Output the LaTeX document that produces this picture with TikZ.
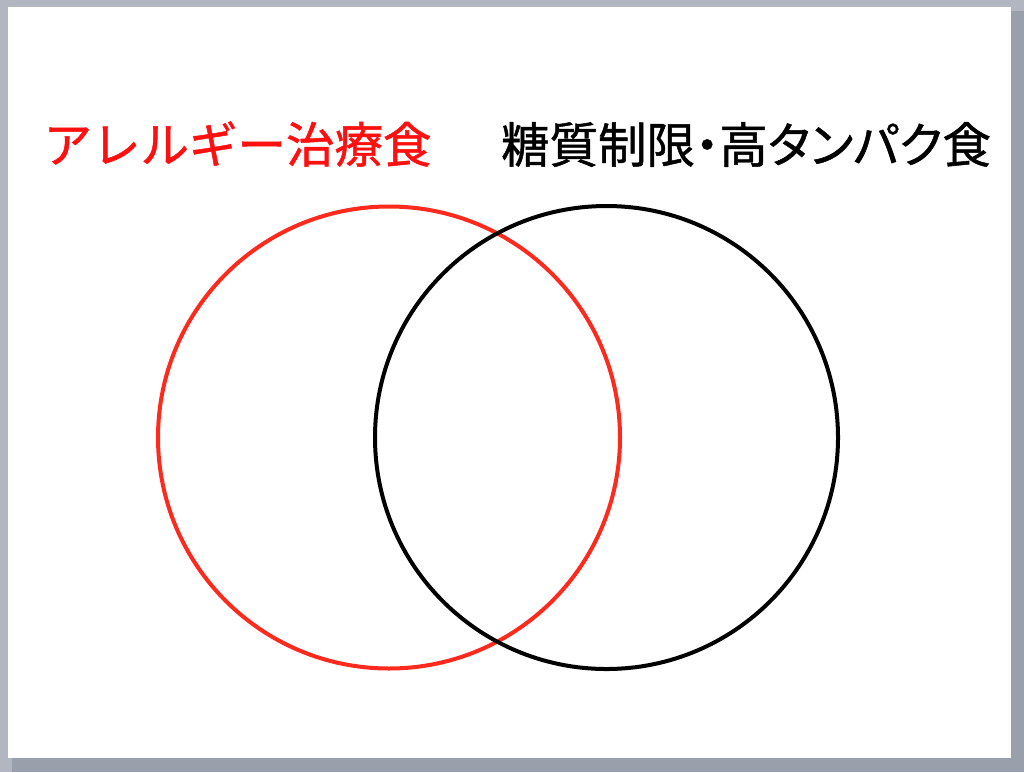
\documentclass[tikz,border=0pt]{standalone}
\usepackage{fontspec}
\newfontfamily\jpfont[FakeBold=1]{Noto Sans CJK JP}
\newfontfamily\jpfontp[FakeBold=1,RawFeature=+palt]{Noto Sans CJK JP}
\definecolor{framegray}{HTML}{B1B6C1}
\definecolor{shadowgray}{HTML}{9A9FAC}
\definecolor{circred}{HTML}{FF2A1E}
\definecolor{textred}{HTML}{FF1010}
\tikzset{
  venn/.style={line width=4pt},
  lbl/.style={inner sep=0pt, anchor=center}
}
\begin{document}
\begin{tikzpicture}[x=1pt,y=-1pt]
\useasboundingbox (0,0) rectangle (1024,772);
\fill[framegray] (0,0) rectangle (1024,772);
\fill[shadowgray] (12,11) rectangle (1024,772);
\fill[white] (8,7) rectangle (1011,758);
\node[lbl, text=textred, font=\jpfont\fontsize{48.5pt}{52pt}\selectfont] (t1) at (237.5,144) {アレルギー治療食};
\node[lbl, text=black, font=\jpfontp\fontsize{48.5pt}{52pt}\selectfont] (t2) at (746,144.5) {糖質制限・高タンパク食};
\draw[venn, draw=circred] (389,437.5) circle[radius=231];
\draw[venn, draw=black] (606.5,437.5) circle[radius=231.5];
\end{tikzpicture}
\end{document}
